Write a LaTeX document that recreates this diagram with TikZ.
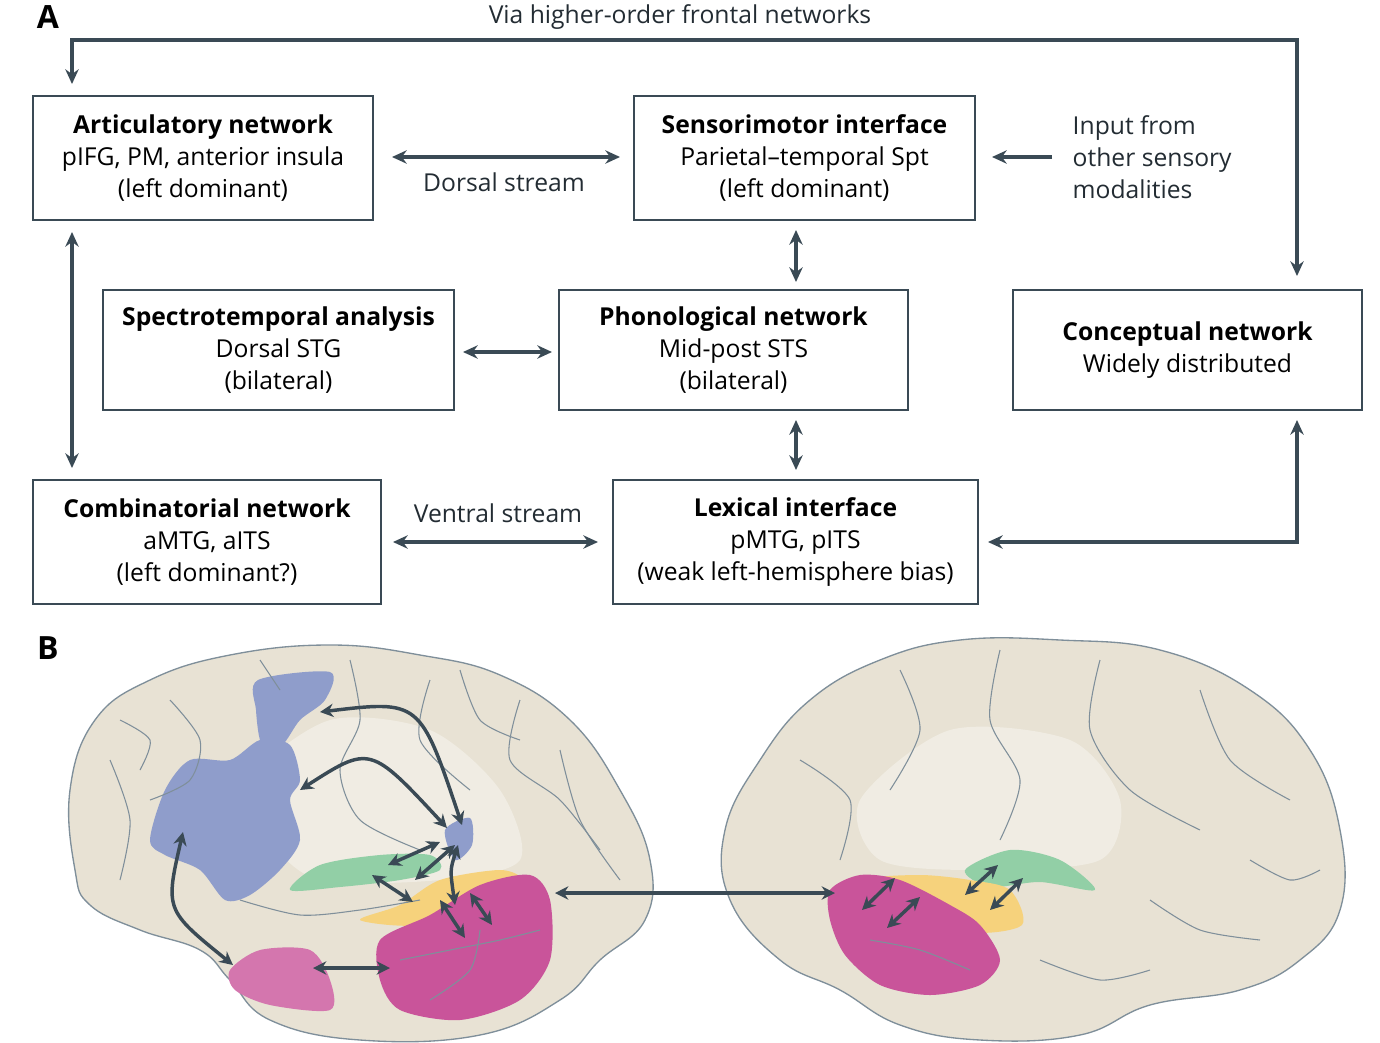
\documentclass[tikz,border=0pt]{standalone}
\usepackage{fontspec}
\setmainfont{Open Sans}
\usetikzlibrary{arrows.meta}
\definecolor{ac}{HTML}{3A4A55}
\definecolor{brainf}{HTML}{E8E2D4}
\definecolor{braino}{HTML}{7F8F9A}
\definecolor{bl}{HTML}{8F9DCB}
\definecolor{gr}{HTML}{92CFA6}
\definecolor{ye}{HTML}{F6D27C}
\definecolor{mg}{HTML}{C9549A}
\begin{document}
\begin{tikzpicture}[x=0.75pt,y=-0.75pt,
  box/.style={draw=ac,line width=1.2pt,minimum width=#1,minimum height=93pt,align=center,inner sep=0pt,font=\fontsize{18.5}{24}\selectfont},
  lab/.style={font=\fontsize{18.5}{24}\selectfont,text=ac!60!black},
  arr/.style={ac,line width=2.5pt,{Stealth[length=11pt,width=10pt]}-{Stealth[length=11pt,width=10pt]}},
  one/.style={ac,line width=2.5pt,-{Stealth[length=11pt,width=10pt]}},
  barr/.style={ac,line width=2.6pt,{Stealth[length=10pt,width=10pt]}-{Stealth[length=10pt,width=10pt]}}]
\useasboundingbox (0,0) rectangle (1380,1042);
\node[font=\fontsize{24}{28}\selectfont\bfseries] (A) at (48,17) {A};
\node[font=\fontsize{24}{28}\selectfont\bfseries] (B) at (48,648) {B};

\node[box=255pt] (art) at (203,158) {\textbf{Articulatory network}\\pIFG, PM, anterior insula\\(left dominant)};
\node[box=256pt] (sen) at (804.5,158) {\textbf{Sensorimotor interface}\\Parietal–temporal Spt\\(left dominant)};
\node[lab,align=left,anchor=west] (inp) at (1068,157) {Input from\\other sensory\\modalities};
\node[box=263pt,minimum height=90pt] (spe) at (278.5,350) {\textbf{Spectrotemporal analysis}\\Dorsal STG\\(bilateral)};
\node[box=262pt,minimum height=90pt] (pho) at (733.5,350) {\textbf{Phonological network}\\Mid-post STS\\(bilateral)};
\node[box=262pt,minimum height=90pt] (con) at (1187.5,350) {\textbf{Conceptual network}\\Widely distributed};
\node[box=261pt] (com) at (207,542) {\textbf{Combinatorial network}\\aMTG, aITS\\(left dominant?)};
\node[box=274pt] (lex) at (795.5,542) {\textbf{Lexical interface}\\pMTG, pITS\\(weak left-hemisphere bias)};

\coordinate (tl) at (72,40); \coordinate (tr) at (1297,40);
\draw[arr] (72,84) -- (tl) -- (tr) -- (1297,276);
\node[lab] (via) at (680,17) {Via higher-order frontal networks};
\draw[arr] (392,157) -- (620,157);
\node[lab] (dor) at (504,182) {Dorsal stream};
\draw[one] (1052,157) -- (992,157);
\draw[arr] (796,230) -- (796,282);
\draw[arr] (463,352) -- (552,352);
\draw[arr] (796,420) -- (796,470);
\draw[arr] (72,232) -- (72,468);
\draw[arr] (393,542) -- (598,542);
\node[lab] (ven) at (498,513) {Ventral stream};
\coordinate (lr) at (1297,542);
\draw[arr] (988,542) -- (lr) -- (1297,420);

% left brain
\draw[braino,fill=brainf,line width=1pt] plot[smooth cycle,tension=0.7] coordinates {(75,870)(70,790)(95,720)(150,680)(230,655)(330,645)(420,655)(500,675)(570,720)(620,790)(650,860)(645,920)(600,960)(560,1000)(480,1035)(360,1040)(270,1020)(230,980)(200,950)(140,930)(90,905)};
\fill[white,opacity=0.35] plot[smooth cycle] coordinates {(250,780)(330,720)(430,730)(500,790)(520,860)(440,880)(320,880)(270,840)};
\fill[bl] plot[smooth cycle,tension=0.5] coordinates {(258,680)(330,672)(325,700)(300,720)(282,745)(262,745)(256,710)};
\fill[bl] plot[smooth cycle,tension=0.5] coordinates {(150,840)(165,790)(190,760)(230,760)(260,740)(290,745)(300,780)(290,800)(300,840)(280,870)(250,895)(225,900)(200,870)(165,855)};
\fill[bl] plot[smooth cycle] coordinates {(445,830)(470,818)(472,845)(455,860)};
\fill[gr] plot[smooth cycle] coordinates {(290,890)(320,865)(380,855)(430,855)(440,870)(400,880)(340,887)};
\fill[ye] plot[smooth cycle] coordinates {(360,920)(400,905)(440,880)(500,870)(520,880)(480,900)(420,925)};
\fill[mg] plot[smooth cycle] coordinates {(380,940)(430,915)(480,885)(530,875)(550,900)(550,960)(520,1000)(460,1020)(400,1010)(380,980)};
\fill[mg!80!white] plot[smooth cycle] coordinates {(230,970)(260,950)(310,950)(330,980)(330,1010)(270,1005)(235,990)};
\begin{scope}[braino,line width=0.8pt]
\draw plot[smooth] coordinates {(170,700)(200,740)(190,780)(150,800)};
\draw plot[smooth] coordinates {(350,660)(360,720)(340,770)(360,820)(420,850)};
\draw plot[smooth] coordinates {(430,680)(420,740)(470,790)};
\draw plot[smooth] coordinates {(520,700)(510,760)(560,800)(600,850)};
\draw plot[smooth] coordinates {(240,900)(300,915)(360,910)(420,900)};
\draw plot[smooth] coordinates {(110,760)(130,820)(120,880)};
\draw plot[smooth] coordinates {(400,960)(450,950)(500,940)(540,930)};
\draw plot[smooth] coordinates {(430,1000)(470,970)(480,930)};
\draw plot[smooth] coordinates {(560,750)(580,820)(620,880)};
\draw plot[smooth] coordinates {(120,720)(150,740)(140,770)};
\draw plot[smooth] coordinates {(260,660)(280,690)};
\draw plot[smooth] coordinates {(460,670)(480,720)(520,740)};
\end{scope}
\draw[barr] (320,712) .. controls (420,700) .. (462,825);
\draw[barr] (300,790) .. controls (370,745) .. (447,828);
\draw[barr] (183,832) .. controls (165,910) .. (233,965);
\draw[barr] (313,968) -- (390,968);
\draw[barr] (372,875) -- (413,902);
\draw[barr] (388,865) -- (440,842);
\draw[barr] (415,880) -- (455,845);
\draw[barr] (440,900) -- (465,938);
\draw[barr] (470,893) -- (492,925);
\draw[barr] (455,905) .. controls (450,870) .. (458,845);

% right brain
\draw[braino,fill=brainf,line width=1pt] plot[smooth cycle,tension=0.7] coordinates {(730,900)(725,830)(760,760)(810,700)(880,660)(960,640)(1060,640)(1160,650)(1250,690)(1310,750)(1340,830)(1340,910)(1300,960)(1240,990)(1150,1005)(1080,1035)(980,1040)(900,1025)(840,990)(780,960)};
\fill[white,opacity=0.35] plot[smooth cycle] coordinates {(860,800)(950,730)(1070,740)(1120,800)(1100,860)(980,870)(880,860)};
\fill[gr] plot[smooth cycle] coordinates {(965,870)(1010,850)(1060,860)(1095,890)(1040,882)(990,887)};
\fill[ye] plot[smooth cycle] coordinates {(870,880)(920,875)(970,880)(1010,890)(1022,925)(970,932)(920,905)};
\fill[mg] plot[smooth cycle] coordinates {(830,890)(860,875)(900,880)(950,905)(980,925)(1000,960)(980,985)(930,995)(880,985)(845,955)(830,920)};
\begin{scope}[braino,line width=0.8pt]
\draw plot[smooth] coordinates {(900,670)(920,730)(890,790)};
\draw plot[smooth] coordinates {(1000,650)(990,720)(1020,780)(1000,840)};
\draw plot[smooth] coordinates {(1100,660)(1090,730)(1130,790)(1200,830)};
\draw plot[smooth] coordinates {(1200,690)(1230,760)(1290,800)};
\draw plot[smooth] coordinates {(800,760)(850,800)(840,860)};
\draw plot[smooth] coordinates {(1150,900)(1200,930)(1260,940)};
\draw plot[smooth] coordinates {(1040,960)(1100,980)(1150,970)};
\draw plot[smooth] coordinates {(870,940)(920,950)(970,970)};
\draw plot[smooth] coordinates {(1250,860)(1290,880)(1320,870)};
\end{scope}
\draw[barr] (862,910) -- (895,878);
\draw[barr] (887,928) -- (920,897);
\draw[barr] (965,895) -- (998,865);
\draw[barr] (990,910) -- (1023,878);
\draw[barr] (555,893) -- (835,893);
\end{tikzpicture}
\end{document}
